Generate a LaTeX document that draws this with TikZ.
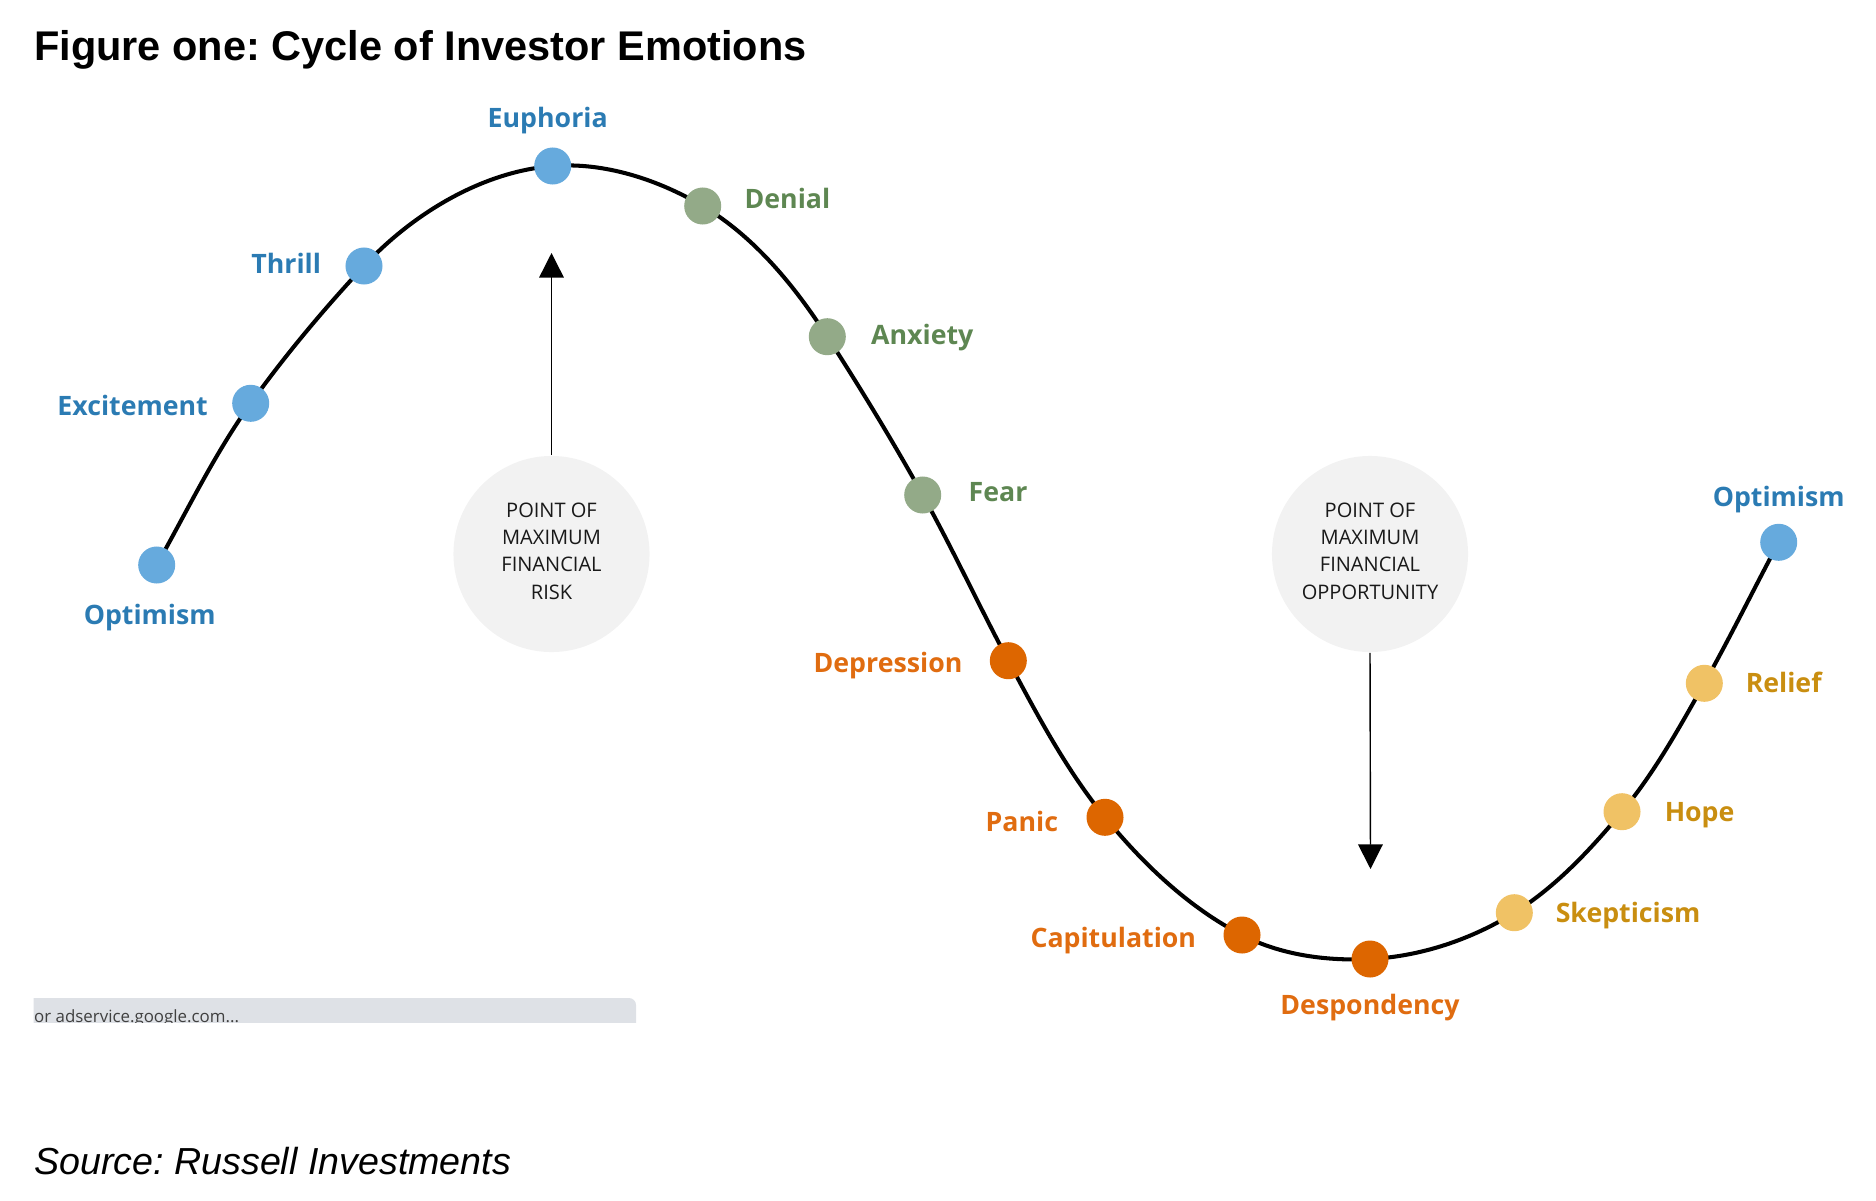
\documentclass[tikz,border=0pt]{standalone}
\usepackage{fontspec}
\setmainfont{Liberation Sans}
\newfontfamily\lblfont{Open Sans}
\usetikzlibrary{arrows.meta, positioning, backgrounds}
\definecolor{dotblue}{HTML}{66AADD}
\definecolor{txtblue}{HTML}{2B7BB3}
\definecolor{dotgreen}{HTML}{93AA88}
\definecolor{txtgreen}{HTML}{5E8752}
\definecolor{dotorange}{HTML}{DD6600}
\definecolor{txtorange}{HTML}{E06C10}
\definecolor{dotyellow}{HTML}{F0C265}
\definecolor{txtyellow}{HTML}{C98E10}
\definecolor{bubblegray}{HTML}{F2F2F2}
\definecolor{bargray}{HTML}{DEE1E6}
\frenchspacing

\begin{document}
\begin{tikzpicture}[x=0.01cm, y=-0.01cm,
  dot/.style={circle, inner sep=0pt, minimum size=0.37cm},
  bdot/.style={dot, fill=dotblue},
  gdot/.style={dot, fill=dotgreen},
  odot/.style={dot, fill=dotorange},
  ydot/.style={dot, fill=dotyellow},
  lbl/.style={inner sep=0pt, text height=5.4pt, text depth=0pt,
              font=\lblfont\bfseries\fontsize{7.6}{9}\selectfont},
  blbl/.style={lbl, text=txtblue},
  glbl/.style={lbl, text=txtgreen},
  olbl/.style={lbl, text=txtorange},
  ylbl/.style={lbl, text=txtyellow},
  bubble/.style={circle, fill=bubblegray, minimum size=1.96cm, inner sep=0pt},
  bubbletext/.style={align=center, text=black!90, inner sep=0pt,
                     font=\lblfont\fontsize{5.7}{7.8}\selectfont},
  ar/.style={-{Triangle[length=7pt, width=7pt]}, line width=0.4pt},
  node distance=0.23cm
]
  \useasboundingbox (0,0) rectangle (1876,1200);

  % title and source
  \node[anchor=base west, inner sep=0pt, font=\bfseries\fontsize{11.8}{14}\selectfont]
    (title) at (33.5,60) {Figure one: Cycle of Investor Emotions};
  \node[anchor=base west, inner sep=0pt, font=\itshape\fontsize{10.7}{13}\selectfont]
    (source) at (33.5,1174) {Source: Russell Investments};

  % dots along the cycle
  \node[bdot] (opt1) at (156.7,565)    {};
  \node[bdot] (exc)  at (250.7,403.3)  {};
  \node[bdot] (thr)  at (364,266)      {};
  \node[bdot] (eup)  at (552.7,166)    {};
  \node[gdot] (den)  at (702.7,206)    {};
  \node[gdot] (anx)  at (827.3,336.7)  {};
  \node[gdot] (fear) at (922.7,495)    {};
  \node[odot] (dep)  at (1008.3,660.7) {};
  \node[odot] (pan)  at (1105,817.3)   {};
  \node[odot] (cap)  at (1242,935)     {};
  \node[odot] (desp) at (1370,959)     {};
  \node[ydot] (skep) at (1514.3,912.7) {};
  \node[ydot] (hope) at (1622,811.7)   {};
  \node[ydot] (rel)  at (1704.3,683.3) {};
  \node[bdot] (opt2) at (1778.7,542.3) {};

  % the cycle curve
  \begin{scope}[on background layer]
    \draw[line width=1.15pt]
      (opt1.center) .. controls +(30.5,-54.2) and +(-36.1,50.5) .. (exc.center)
      .. controls +(34.4,-48) and +(-40.3,43.3) .. (thr.center)
      .. controls +(48.4,-52) and +(-71,5.7) .. (eup.center)
      .. controls +(51.5,-4.1) and +(-44.5,-26.4) .. (den.center)
      .. controls +(51.8,30.7) and +(-32.5,-50.6) .. (anx.center)
      .. controls +(33.3,51.7) and +(-29.9,-53.8) .. (fear.center)
      .. controls +(30.2,54.4) and +(-29.2,-54.7) .. (dep.center)
      .. controls +(28.8,54) and +(-38.6,-47.2) .. (pan.center)
      .. controls +(37.9,46.4) and +(-53.6,-27.7) .. (cap.center)
      .. controls +(38.6,20) and +(-43.4,2.2) .. (desp.center)
      .. controls +(50.4,-2.5) and +(-42.9,26.8) .. (skep.center)
      .. controls +(41.8,-26.1) and +(-31.5,37.9) .. (hope.center)
      .. controls +(32.5,-39.1) and +(-24.9,44.2) .. (rel.center)
      .. controls +(26,-46.2) and +(-25,46.7) .. (opt2.center);
  \end{scope}

  % labels
  \node[blbl, below=0.21cm of opt1, xshift=-0.07cm] (lopt1) {Optimism};
  \node[blbl, left=of exc, yshift=-0.024cm] (lexc) {Excitement};
  \node[blbl, left=of thr, yshift=0.02cm]   (lthr) {Thrill};
  \node[blbl, above=0.19cm of eup, xshift=-0.05cm] (leup) {Euphoria};
  \node[glbl, right=0.22cm of den, yshift=0.067cm] (lden) {Denial};
  \node[glbl, right=0.24cm of anx, yshift=0.017cm] (lanx) {Anxiety};
  \node[glbl, right=0.26cm of fear, yshift=0.033cm] (lfear) {Fear};
  \node[olbl, left=0.26cm of dep, yshift=-0.024cm] (ldep) {Depression};
  \node[olbl, left=0.27cm of pan, yshift=-0.044cm] (lpan) {Panic};
  \node[olbl, left=0.26cm of cap, yshift=-0.033cm] (lcap) {Capitulation};
  \node[olbl, below=0.17cm of desp] (ldesp) {Despondency};
  \node[ylbl, right=0.215cm of skep] (lskep) {Skepticism};
  \node[ylbl, right=0.228cm of hope] (lhope) {Hope};
  \node[ylbl, right=0.215cm of rel]  (lrel)  {Relief};
  \node[blbl, above=0.16cm of opt2] (lopt2) {Optimism};

  % points of maximum risk / opportunity
  \node[bubble] (risk) at (551.5,554) {};
  \node[bubbletext, yshift=0.03cm] (risktext) at (risk) {POINT OF\\MAXIMUM\\FINANCIAL\\RISK};
  \node[bubble] (opp)  at (1370,554)  {};
  \node[bubbletext, yshift=0.03cm] (opptext) at (opp) {POINT OF\\MAXIMUM\\FINANCIAL\\OPPORTUNITY};
  \coordinate (risktip) at (551.5,253);
  \coordinate (opptip)  at (1370.5,869);
  \draw[ar] (risk.north) -- (risktip);
  \draw[ar] (opp.south)  -- (opptip);

  % clipped ad bar
  \begin{scope}
    \clip (33.5,990) rectangle (650,1022);
    \fill[bargray, rounded corners=0.07cm] (20,998) rectangle (636,1040);
    \node[anchor=base west, inner sep=0pt, text=black!75,
          font=\lblfont\fontsize{4.8}{6}\selectfont]
      (adtext) at (33.5,1022.5) {or adservice.google.com...};
  \end{scope}
\end{tikzpicture}
\end{document}
